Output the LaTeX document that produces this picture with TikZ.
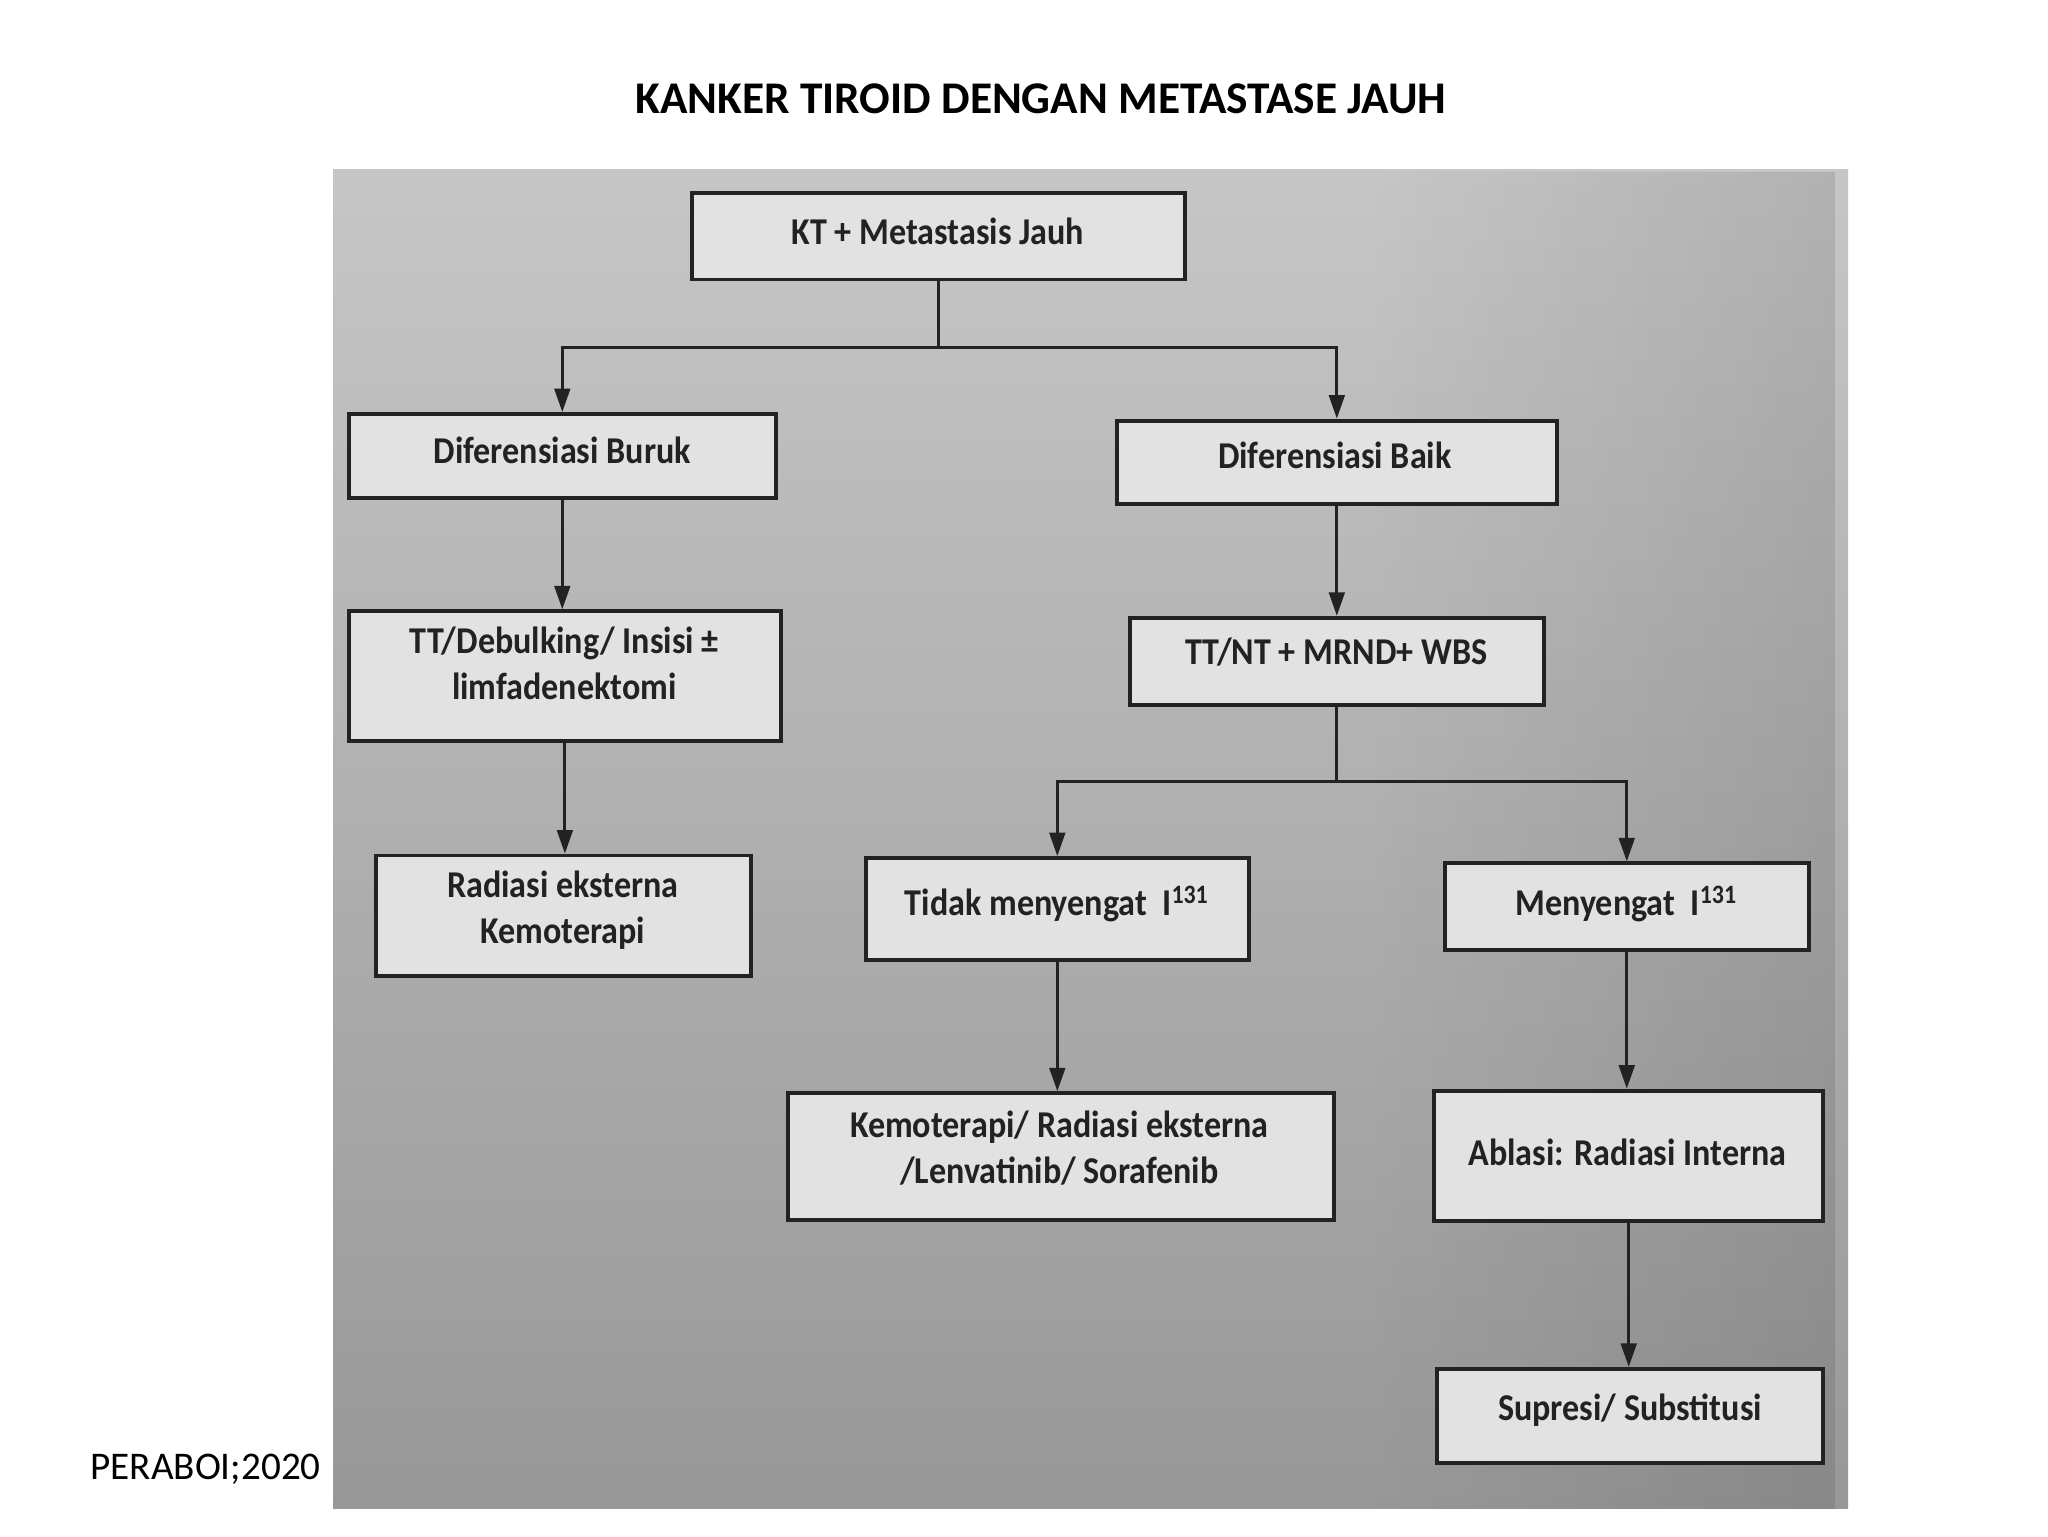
\documentclass[tikz,border=0pt]{standalone}
\usepackage{fontspec}
\setmainfont{Carlito}
\newfontfamily\boxfont[FakeStretch=0.9]{Carlito}
\usetikzlibrary{arrows.meta,positioning,calc,fadings}
\definecolor{bgtop}{RGB}{198,198,198}
\definecolor{bgbot}{RGB}{152,152,152}
\definecolor{boxfill}{RGB}{226,226,226}
\definecolor{ink}{RGB}{34,34,34}
\tikzfading[name=fadeleft, left color=transparent!100, right color=transparent!0]
\tikzset{
  box/.style={draw=ink, line width=3pt, fill=boxfill, inner sep=0pt},
  lbl/.style={font=\boxfont\bfseries\fontsize{29}{35}\selectfont, text=ink, align=center, inner sep=0pt},
  conn/.style={draw=ink, line width=2.2pt},
  arr/.style={conn, -{Triangle[length=18pt,width=12pt]}},
}
\begin{document}
\begin{tikzpicture}[x=1pt,y=-1pt]
\useasboundingbox[fill=white] (0,0) rectangle (1568,1176);
% photo background
\shade[top color=bgtop, bottom color=bgbot] (255,130) rectangle (1415,1155);
\fill[black, opacity=0.1, path fading=fadeleft] (1050,130) rectangle (1405,1155);
% title and source
\node[font=\bfseries\fontsize{34.7}{41}\selectfont] (title) at (797,76) {KANKER TIROID DENGAN METASTASE JAUH};
\node[font=\fontsize{30}{36}\selectfont, anchor=west, inner sep=0pt] (src) at (69,1125) {PERABOI;2020};
% boxes
\node[box, minimum width=377pt, minimum height=66pt] (b1) at (718.5,181) {};
\node[box, minimum width=327pt, minimum height=64pt] (b2) at (430.5,349) {};
\node[box, minimum width=337pt, minimum height=64pt] (b3) at (1023.5,354) {};
\node[box, minimum width=331pt, minimum height=99pt] (b4) at (432.5,517.5) {};
\node[box, minimum width=317pt, minimum height=67pt] (b5) at (1023.5,506.5) {};
\node[box, minimum width=287pt, minimum height=92pt] (b6) at (431.5,701) {};
\node[box, minimum width=293pt, minimum height=78pt] (b7) at (809.5,696) {};
\node[box, minimum width=279pt, minimum height=66pt] (b8) at (1245.5,694) {};
\node[box, minimum width=418pt, minimum height=97pt] (b9) at (812,885.5) {};
\node[box, minimum width=298pt, minimum height=100pt] (b10) at (1247,885) {};
\node[box, minimum width=296pt, minimum height=72pt] (b11) at (1248,1084) {};
% labels
\node[lbl] (t1) at (718,177) {KT + Metastasis Jauh};
\node[lbl] (t2) at (430.5,345) {Diferensiasi Buruk};
\node[lbl] (t3) at (1022,349) {Diferensiasi Baik};
\node[lbl] (t4) at (432,508) {TT/Debulking/ Insisi ±\\limfadenektomi};
\node[lbl] (t5) at (1023,499) {TT/NT + MRND+ WBS};
\node[lbl] (t6) at (431,697) {Radiasi eksterna\\Kemoterapi};
\node[lbl] (t7) at (809,692) {Tidak menyengat\ \ I\textsuperscript{131}};
\node[lbl] (t8) at (1245,692) {Menyengat\ \ I\textsuperscript{131}};
\node[lbl] (t9) at (811,879) {Kemoterapi/ Radiasi eksterna\\/Lenvatinib/ Sorafenib};
\node[lbl] (t10) at (1246,882) {Ablasi: Radiasi Interna};
\node[lbl] (t11) at (1248,1080) {Supresi/ Substitusi};
% connectors
\coordinate (j1) at (718.5,266);
\coordinate (j2) at (1023.5,598);
\draw[conn] (b1.south) -- (j1);
\draw[arr] (j1) -| (b2.north);
\draw[arr] (j1) -| (b3.north);
\draw[arr] (b2.south) -- (b2.south |- b4.north);
\draw[arr] (b4.south) -- (b4.south |- b6.north);
\draw[arr] (b3.south) -- (b3.south |- b5.north);
\draw[conn] (b5.south) -- (j2);
\draw[arr] (j2) -| (b7.north);
\draw[arr] (j2) -| (b8.north);
\draw[arr] (b7.south) -- (b7.south |- b9.north);
\draw[arr] (b8.south) -- (b8.south |- b10.north);
\draw[arr] (b10.south) -- (b10.south |- b11.north);
\end{tikzpicture}
\end{document}
